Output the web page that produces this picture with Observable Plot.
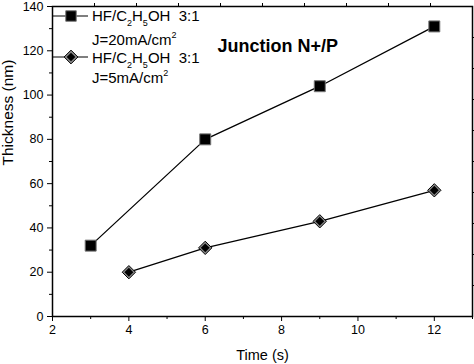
<!DOCTYPE html>
<html>
<head>
<meta charset="utf-8">
<script src="https://cdn.jsdelivr.net/npm/d3@7"></script>
<script src="https://cdn.jsdelivr.net/npm/@observablehq/plot@0.6"></script>
<style>
  html, body { margin: 0; padding: 0; background: white; }
  svg { display: block; }
</style>
</head>
<body>
<div id="chart"></div>
<script>
// Data
const time20 = [3, 6, 9, 12];
const thick20 = [32, 80, 104, 131];
const time5 = [4, 6, 9, 12];
const thick5 = [20, 31, 43, 57];

const xMajor = [2, 4, 6, 8, 10, 12];
const xMinor = [3, 5, 7, 9, 11, 13];
const xTop = [3.1, 4.2, 5.3, 6.4, 7.5, 8.6, 9.7, 10.8, 11.9];
const yMajor = [0, 20, 40, 60, 80, 100, 120, 140];
const yMinor = [10, 30, 50, 70, 90, 110, 130];
const yRight = [14, 28, 42, 56, 70, 84, 98, 112, 126];

const xLabel = "Time (s)";
const yLabel = "Thickness (nm)";
const annotation = "Junction N+/P";
const legendLines = [
  {formula: ["HF/C", "2", "H", "5", "OH\u00a0\u00a03:1"], current: ["J=20mA/cm", "2"], symbol: "square"},
  {formula: ["HF/C", "2", "H", "5", "OH\u00a0\u00a03:1"], current: ["J=5mA/cm", "2"], symbol: "diamond"}
];

const s20 = time20.map((t, i) => ({t, v: thick20[i]}));
const s5 = time5.map((t, i) => ({t, v: thick5[i]}));

const font = "Liberation Sans, Arial, Helvetica, sans-serif";

function legendMark(index, scales, values, dims) {
  const g = d3.create("svg:g").attr("font-family", font).attr("text-anchor", "start");
  const rows = [{line: 16, b1: 21, b2: 45}, {line: 57, b1: 63, b2: 83}];
  legendLines.forEach((item, k) => {
    const r = rows[k];
    const y = r.line;
    g.append("line").attr("x1", 53).attr("x2", 88).attr("y1", y).attr("y2", y)
      .attr("stroke", "black").attr("stroke-width", 1.2);
    if (item.symbol === "square") {
      g.append("path").attr("d", d3.symbol(d3.symbolSquare, 110)())
        .attr("transform", `translate(71,${y})`).attr("fill", "black").attr("stroke", "#777");
    } else {
      g.append("path").attr("d", d3.symbol(d3.symbolDiamond2, 120)())
        .attr("transform", `translate(71,${y})`).attr("fill", "#888").attr("stroke", "black");
      g.append("path").attr("d", d3.symbol(d3.symbolDiamond2, 48)())
        .attr("transform", `translate(71,${y})`).attr("fill", "black");
    }
    const t1 = g.append("text").attr("x", 92).attr("y", r.b1).attr("font-size", 15)
      .attr("fill", "black").style("white-space", "pre");
    item.formula.forEach((part, j) => {
      const sub = j % 2 === 1;
      t1.append("tspan").text(part)
        .attr("font-size", sub ? 9 : 15)
        .attr("dy", sub ? 5 : (j === 0 ? 0 : -5));
    });
    const t2 = g.append("text").attr("x", 92).attr("y", r.b2).attr("font-size", 15).attr("fill", "black");
    t2.append("tspan").text(item.current[0]);
    t2.append("tspan").text(item.current[1]).attr("font-size", 9).attr("dy", -7);
  });
  return g.node();
}

const chart = Plot.plot({
  width: 474,
  height: 364,
  marginLeft: 52,
  marginRight: 2,
  marginTop: 6,
  marginBottom: 48,
  style: {fontFamily: font, fontSize: "12px", background: "white", color: "black"},
  x: {domain: [2, 13]},
  y: {domain: [0, 140]},
  marks: [
    Plot.axisX({ticks: xMajor, tickSize: 5, tickPadding: 4, label: null, fontSize: 12.5}),
    Plot.axisX({ticks: xMinor, tickSize: 3, tickFormat: () => "", label: null}),
    Plot.axisX({anchor: "top", ticks: xTop, tickSize: 4, tickFormat: () => "", label: null}),
    Plot.axisY({ticks: yMajor, tickSize: 5, tickPadding: 4, label: null, fontSize: 12.5}),
    Plot.axisY({ticks: yMinor, tickSize: 3, tickFormat: () => "", label: null}),
    Plot.axisY({anchor: "right", ticks: yRight, tickSize: 4, tickFormat: () => "", label: null}),
    Plot.frame({stroke: "black", strokeWidth: 1.5}),
    Plot.text([xLabel], {frameAnchor: "bottom", lineAnchor: "bottom", dy: 43, fontSize: 14.5}),
    Plot.text([yLabel], {frameAnchor: "left", rotate: -90, dx: -44, dy: 4, fontSize: 15.5}),
    Plot.text([annotation], {frameAnchor: "top-left", textAnchor: "start", lineAnchor: "bottom", dx: 165, dy: 45, fontSize: 18, fontWeight: "bold"}),
    Plot.line(s20, {x: "t", y: "v", stroke: "black", strokeWidth: 1.3}),
    Plot.line(s5, {x: "t", y: "v", stroke: "black", strokeWidth: 1.3}),
    Plot.dot(s20, {x: "t", y: "v", symbol: "square", r: 6.2, fill: "black", stroke: "#777", strokeWidth: 1}),
    Plot.dot(s5, {x: "t", y: "v", symbol: "diamond2", r: 6, fill: "#888", stroke: "black", strokeWidth: 1}),
    Plot.dot(s5, {x: "t", y: "v", symbol: "diamond2", r: 4, fill: "black"}),
    legendMark
  ]
});
document.getElementById("chart").appendChild(chart);
</script>
</body>
</html>
